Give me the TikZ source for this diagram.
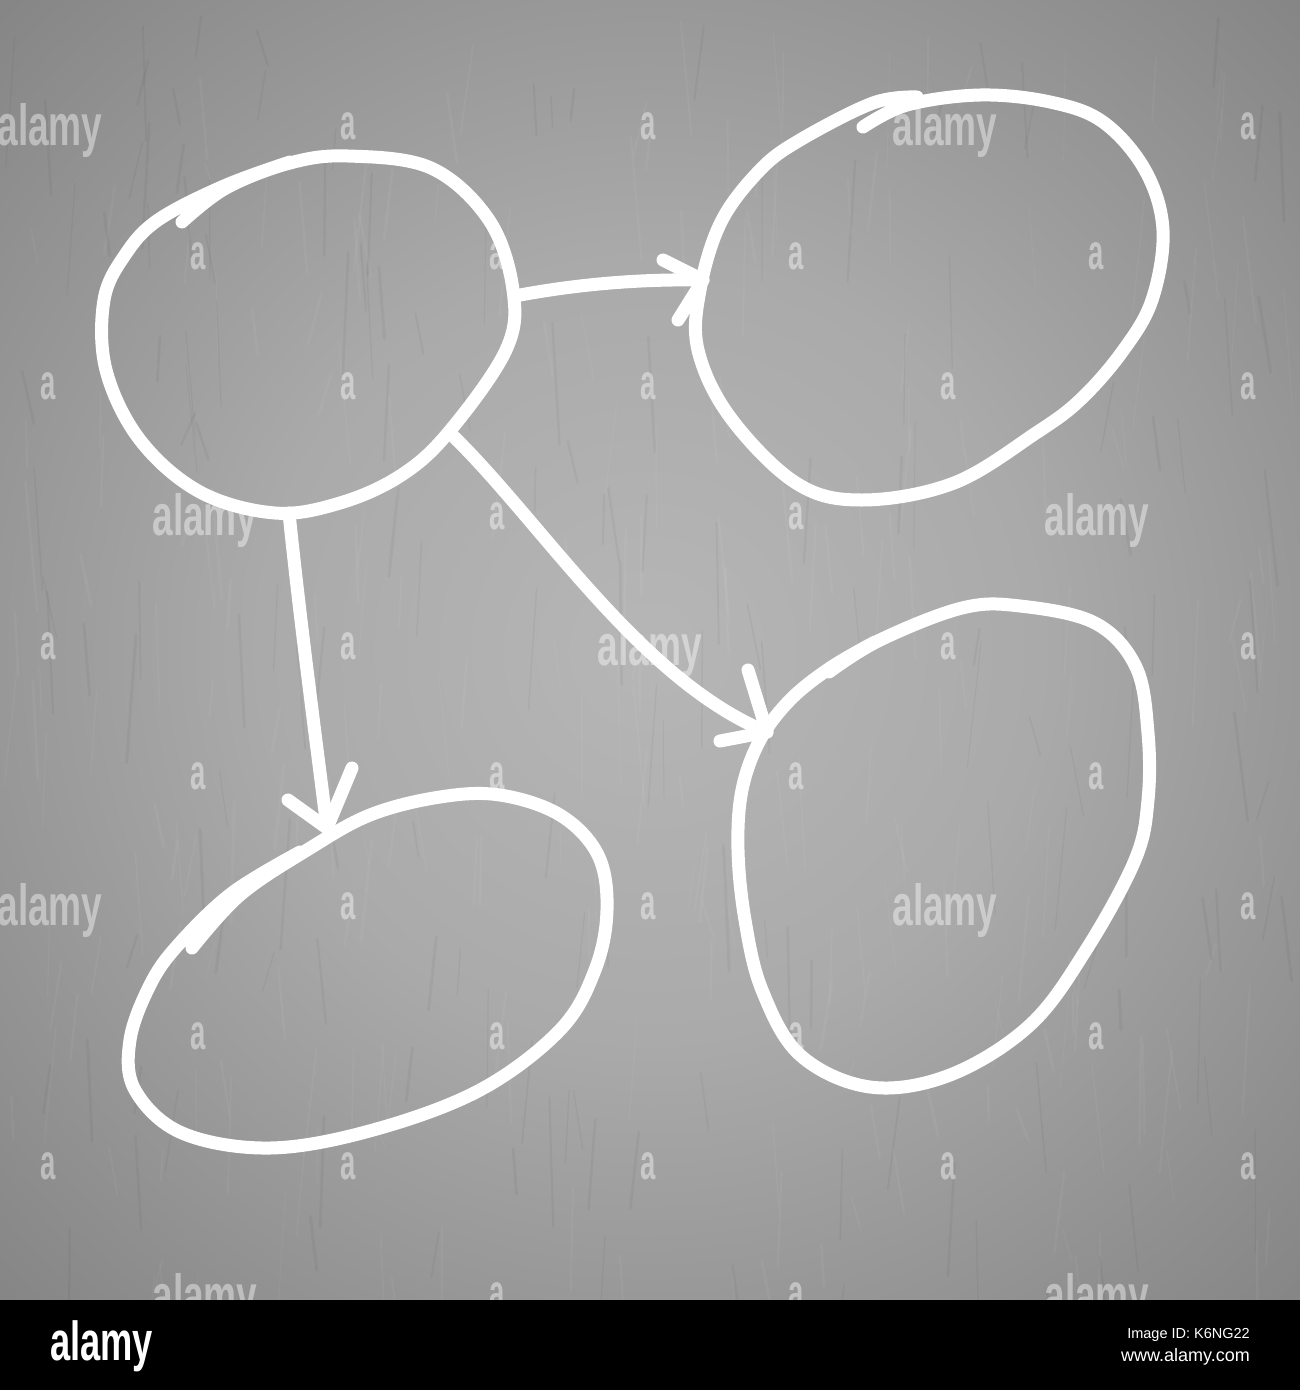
\documentclass[tikz,border=0pt]{standalone}
\usepackage{fontspec}
\newfontfamily\libsans{Liberation Sans}
\definecolor{bgA}{RGB}{182,182,182}
\definecolor{bgB}{RGB}{170,170,170}
\definecolor{bgC}{RGB}{134,134,134}
\definecolor{bgD}{RGB}{104,104,104}
\definecolor{bgE}{RGB}{66,66,66}
\pgfdeclareradialshading{concrete}{\pgfpoint{0bp}{0bp}}{color(0bp)=(bgA); color(15bp)=(bgB); color(35bp)=(bgC); color(50bp)=(bgD); color(71bp)=(bgE)}
\begin{document}
\begin{tikzpicture}[x=1pt,y=-1pt,
  chalk/.style={draw=white, line width=13pt, line cap=round, line join=round},
  streak/.style={line width=#1, line cap=round},
  wma/.style={text=white, text opacity=0.42, inner sep=0pt, anchor=base, xscale=0.55,
    font=\libsans\bfseries\fontsize{50}{50}\selectfont},
  wml/.style={text=white, text opacity=0.42, inner sep=0pt, anchor=base, xscale=0.64,
    font=\libsans\bfseries\fontsize{58}{58}\selectfont},
  bartext/.style={text=white, inner sep=0pt, anchor=base east, font=\libsans\fontsize{#1}{#1}\selectfont}]
\useasboundingbox (0,0) rectangle (1300,1390);
% background
\shade[shading=concrete] (0,0) rectangle (1300,1300);
% faint concrete texture
\pgfmathsetseed{11}
\foreach \i in {1,...,240}{
  \pgfmathsetmacro\xx{650+640*rand}
  \pgfmathsetmacro\yy{650+640*rand}
  \pgfmathsetmacro\ll{30+100*rnd}
  \pgfmathsetmacro\dx{14*rand}
  \pgfmathsetmacro\ww{1+2*rnd}
  \draw[streak=\ww pt, white, opacity=0.045] (\xx,\yy) -- ++(\dx,\ll);
}
\foreach \i in {1,...,160}{
  \pgfmathsetmacro\xx{650+640*rand}
  \pgfmathsetmacro\yy{650+640*rand}
  \pgfmathsetmacro\ll{30+100*rnd}
  \pgfmathsetmacro\dx{14*rand}
  \pgfmathsetmacro\ww{1+2*rnd}
  \draw[streak=\ww pt, black, opacity=0.04] (\xx,\yy) -- ++(\dx,\ll);
}

% ellipse 1 (top left)
\draw[chalk] plot[smooth, tension=0.6] coordinates {(182,222) (226,188) (290,163) (348,156) (431,168) (489,220) (513,290) (506,350) (448,433) (400,476) (340,503) (275,513) (200,492) (140,440) (106,370) (104,300) (125,255) (158,220) (224,186) (290,162)};
% ellipse 2 (top right)
\draw[chalk] plot[smooth, tension=0.6] coordinates {(863,127) (907,105) (980,95) (1050,102) (1103,122) (1145,170) (1163,230) (1152,300) (1122,352) (1080,400) (1036,433) (954,483) (862,500) (796,483) (730,417) (698,350) (700,290) (721,222) (760,170) (800,140) (873,103) (917,97)};
% ellipse 3 (bottom left)
\draw[chalk] plot[smooth, tension=0.6] coordinates {(192,948) (240,895) (307,850) (370,815) (440,797) (500,795) (560,815) (598,855) (607,910) (595,970) (560,1030) (480,1090) (373,1130) (270,1148) (182,1133) (135,1090) (130,1040) (150,985) (178,945) (232,893) (300,852)};
% ellipse 4 (bottom right)
\draw[chalk] plot[smooth, tension=0.6] coordinates {(829,672) (880,640) (962,608) (1020,606) (1095,623) (1136,667) (1148,733) (1148,800) (1135,860) (1086,950) (1030,1025) (950,1075) (870,1087) (800,1055) (762,990) (745,920) (738,850) (742,790) (760,740) (790,700) (830,668) (875,642)};

% arrows
\coordinate (aS) at (520,295);
\coordinate (aT) at (703,280);
\coordinate (aU) at (663,260);
\coordinate (aD) at (678,320);
\draw[chalk] (aS) .. controls (580,284) and (640,279) .. (aT);
\draw[chalk] (aU) -- (aT) -- (aD);

\coordinate (bS) at (289,513);
\coordinate (bT) at (327,828);
\coordinate (bL) at (288,800);
\coordinate (bR) at (352,768);
\draw[chalk] (bS) .. controls (300,620) and (316,740) .. (bT);
\draw[chalk] (bL) -- (bT) -- (bR);

\coordinate (cS) at (452,435);
\coordinate (cT) at (767,732);
\coordinate (cU) at (748,670);
\coordinate (cD) at (720,741);
\draw[chalk] (cS) .. controls (540,520) and (640,680) .. (cT);
\draw[chalk] (cU) -- (cT) -- (cD);

% watermarks
\foreach \y in {399,1179}{\foreach \x in {48,348,648,948,1248}{\node[wma] (wa-\x-\y) at (\x,\y) {a};}}
\foreach \y in {269,789,1049}{\foreach \x in {198,497,796,1096}{\node[wma] (wa-\x-\y) at (\x,\y) {a};}}
\foreach \x in {348,648,1248}{\node[wma] (wa-\x-139) at (\x,139) {a};}
\foreach \x in {348,648,1248}{\node[wma] (wa-\x-919) at (\x,919) {a};}
\foreach \x in {48,348,948,1248}{\node[wma] (wa-\x-659) at (\x,659) {a};}
\foreach \x in {497,796}{\node[wma] (wa-\x-529) at (\x,529) {a}; \node[wma] (wa-\x-1309) at (\x,1309) {a};}
\node[wml] (wl1) at (50,145) {alamy};
\node[wml] (wl2) at (945,145) {alamy};
\node[wml] (wl3) at (650,665) {alamy};
\node[wml] (wl4) at (50,925) {alamy};
\node[wml] (wl5) at (945,925) {alamy};
\node[wml] (wl6) at (205,535) {alamy};
\node[wml] (wl7) at (1097,535) {alamy};
\node[wml] (wl8) at (205,1315) {alamy};
\node[wml] (wl9) at (1097,1315) {alamy};

% bottom bar
\fill[black] (0,1300) rectangle (1300,1390);
\node[text=white, inner sep=0pt, anchor=base west, xscale=0.66,
  font=\libsans\bfseries\fontsize{55}{55}\selectfont] (logo) at (50,1360) {alamy};
\node[bartext=14.5] (imgid) at (1250,1338) {Image ID: K6NG22};
\node[bartext=18] (url) at (1250,1361) {www.alamy.com};
\end{tikzpicture}
\end{document}
